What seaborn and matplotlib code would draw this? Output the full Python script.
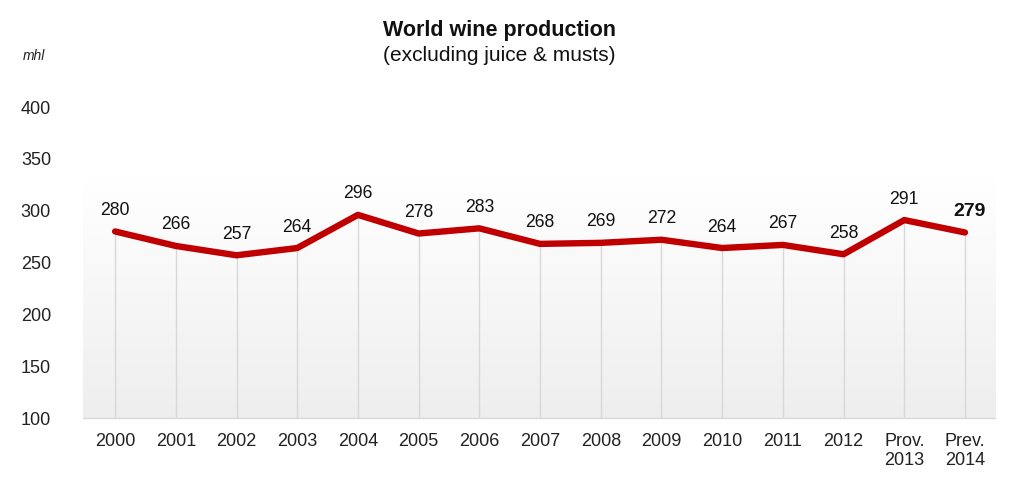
import numpy as np
import pandas as pd
import seaborn as sns
import matplotlib.pyplot as plt
from matplotlib.colors import LinearSegmentedColormap

years = ["2000", "2001", "2002", "2003", "2004", "2005", "2006", "2007",
         "2008", "2009", "2010", "2011", "2012", "Prov.\n2013", "Prev.\n2014"]
production = [280, 266, 257, 264, 296, 278, 283, 268, 269, 272, 264, 267, 258, 291, 279]

df = pd.DataFrame({"pos": np.arange(len(years)), "mhl": production})

sns.set_style("white")
plt.rcParams["font.family"] = ["Liberation Sans", "DejaVu Sans"]

fig = plt.figure(figsize=(10.24, 4.78), dpi=100)
ax = fig.add_axes([0.081, 0.1255, 0.891, 0.6505])

xmin, xmax = -0.53, len(years) - 0.5
ax.set_xlim(xmin, xmax)
ax.set_ylim(100, 400)

# soft grey gradient behind the lower part of the plot
grad = np.linspace(0, 1, 256).reshape(-1, 1)
cmap = LinearSegmentedColormap.from_list("bg", ["#ffffff", "#eeeeee"])
ax.imshow(grad, extent=[xmin, xmax, 100, 330], aspect="auto", cmap=cmap,
          origin="upper", zorder=0)

# vertical guide lines from the base to each point
ax.vlines(df["pos"], 100, df["mhl"], color="#d8d8d8", lw=1, zorder=1)

sns.lineplot(data=df, x="pos", y="mhl", color="#c00000", lw=4.6, ax=ax,
             zorder=3, solid_capstyle="round", solid_joinstyle="round")

for i, v in enumerate(production):
    last = i == len(production) - 1
    ax.annotate(str(v), (i, v), xytext=(3 if last else 0, 9), textcoords="offset points",
                ha="center", va="bottom", fontsize=14 if last else 12.7,
                fontweight="bold" if last else "normal", color="#111111")

ax.set_xticks(df["pos"])
ax.set_xticklabels(years, fontsize=13, color="#222222", linespacing=1.12)
ax.set_yticks(range(100, 401, 50))
ax.tick_params(axis="y", labelsize=13, labelcolor="#222222", length=0, pad=23)
ax.tick_params(axis="x", length=0, pad=11)
ax.set_xlabel("")
ax.set_ylabel("")

for s in ["top", "right", "left"]:
    ax.spines[s].set_visible(False)
ax.spines["bottom"].set_color("#d9d9d9")
ax.spines["bottom"].set_linewidth(1)

fig.text(0.488, 0.937, "World wine production", ha="center", va="center",
         fontsize=15.5, fontweight="bold", color="#111111")
fig.text(0.488, 0.883, "(excluding juice & musts)", ha="center", va="center",
         fontsize=15, color="#111111")
fig.text(0.022, 0.883, "mhl", ha="left", va="center", fontsize=10,
         style="italic", color="#222222")

fig.savefig("out.png", dpi=100)
